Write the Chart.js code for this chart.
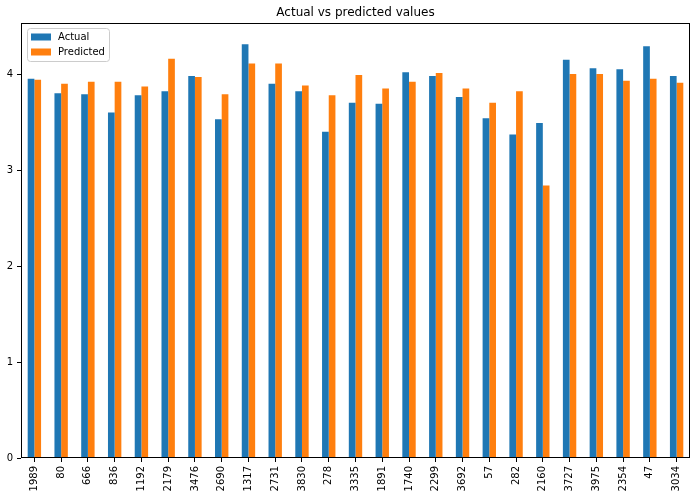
<!DOCTYPE html>
<html>
<head>
<meta charset="utf-8">
<script src="https://cdn.jsdelivr.net/npm/chart.js@4/dist/chart.umd.min.js"></script>
<style>
  body { margin: 0; background: #fff; }
  canvas { display: block; }
</style>
</head>
<body>
<canvas id="chart" width="697" height="497"></canvas>
<script>
const categories = ['1989', '80', '666', '836', '1192', '2179', '3476', '2690', '1317', '2731',
  '3830', '278', '3335', '1891', '1740', '2299', '3692', '57', '282', '2160',
  '3727', '3975', '2354', '47', '3034'];
const actual = [3.95, 3.80, 3.79, 3.60, 3.78, 3.82, 3.98, 3.53, 4.31, 3.90,
  3.82, 3.40, 3.70, 3.69, 4.02, 3.98, 3.76, 3.54, 3.37, 3.49,
  4.15, 4.06, 4.05, 4.29, 3.98];
const predicted = [3.94, 3.90, 3.92, 3.92, 3.87, 4.16, 3.97, 3.79, 4.11, 4.11,
  3.88, 3.78, 3.99, 3.85, 3.92, 4.01, 3.85, 3.70, 3.82, 2.84,
  4.00, 4.00, 3.93, 3.95, 3.91];
const yTicks = [0, 1, 2, 3, 4];

const FONT = 'DejaVu Sans';

// frame around the plot area, the title and the legend box, matplotlib style
const decorations = {
  id: 'decorations',
  afterDraw(chart) {
    const { ctx, chartArea: a } = chart;
    ctx.save();
    ctx.strokeStyle = '#000';
    ctx.lineWidth = 1;
    ctx.strokeRect(a.left + 0.5, a.top + 0.5, a.right - a.left - 1, a.bottom - a.top - 1);

    ctx.fillStyle = '#000';
    ctx.font = '12px ' + FONT;
    ctx.textAlign = 'center';
    ctx.textBaseline = 'middle';
    ctx.fillText('Actual vs predicted values', (a.left + a.right) / 2, 13);

    // legend
    const lx = a.left + 6, ly = a.top + 5, lw = 82, lh = 33;
    ctx.beginPath();
    ctx.roundRect(lx + 0.5, ly + 0.5, lw, lh, 3);
    ctx.fillStyle = 'rgba(255,255,255,0.8)';
    ctx.fill();
    ctx.strokeStyle = '#cccccc';
    ctx.stroke();
    ctx.font = '10px ' + FONT;
    ctx.textAlign = 'left';
    chart.data.datasets.forEach((ds, i) => {
      const cy = ly + 9 + i * 15;
      ctx.fillStyle = ds.backgroundColor;
      ctx.fillRect(lx + 4, cy - 3.5, 20, 7);
      ctx.fillStyle = '#000';
      ctx.fillText(ds.label, lx + 31, cy + 0.5);
    });
    ctx.restore();
  }
};

new Chart(document.getElementById('chart'), {
  type: 'bar',
  data: {
    labels: categories,
    datasets: [
      { label: 'Actual', data: actual, backgroundColor: '#1f77b4' },
      { label: 'Predicted', data: predicted, backgroundColor: '#ff7f0e' }
    ]
  },
  options: {
    responsive: false,
    devicePixelRatio: 1,
    animation: false,
    datasets: { bar: { categoryPercentage: 0.5, barPercentage: 1.0 } },
    layout: { padding: { top: 23, right: 7, left: 0, bottom: 0 } },
    plugins: { legend: { display: false }, tooltip: { enabled: false } },
    scales: {
      x: {
        offset: true,
        grid: { display: true, drawOnChartArea: false, tickLength: 4, color: '#000', offset: false },
        border: { display: false },
        ticks: {
          autoSkip: false, minRotation: 90, maxRotation: 90, padding: 4,
          color: '#000', font: { family: FONT, size: 10 }
        },
        afterFit: s => { s.height = 39; }
      },
      y: {
        min: 0,
        max: 4.532,
        grid: { display: true, drawOnChartArea: false, tickLength: 4, color: '#000' },
        border: { display: false },
        ticks: { padding: 4, color: '#000', font: { family: FONT, size: 10 } },
        afterBuildTicks: s => { s.ticks = yTicks.map(v => ({ value: v })); },
        afterFit: s => { s.width = 21; }
      }
    }
  },
  plugins: [decorations]
});
</script>
</body>
</html>
